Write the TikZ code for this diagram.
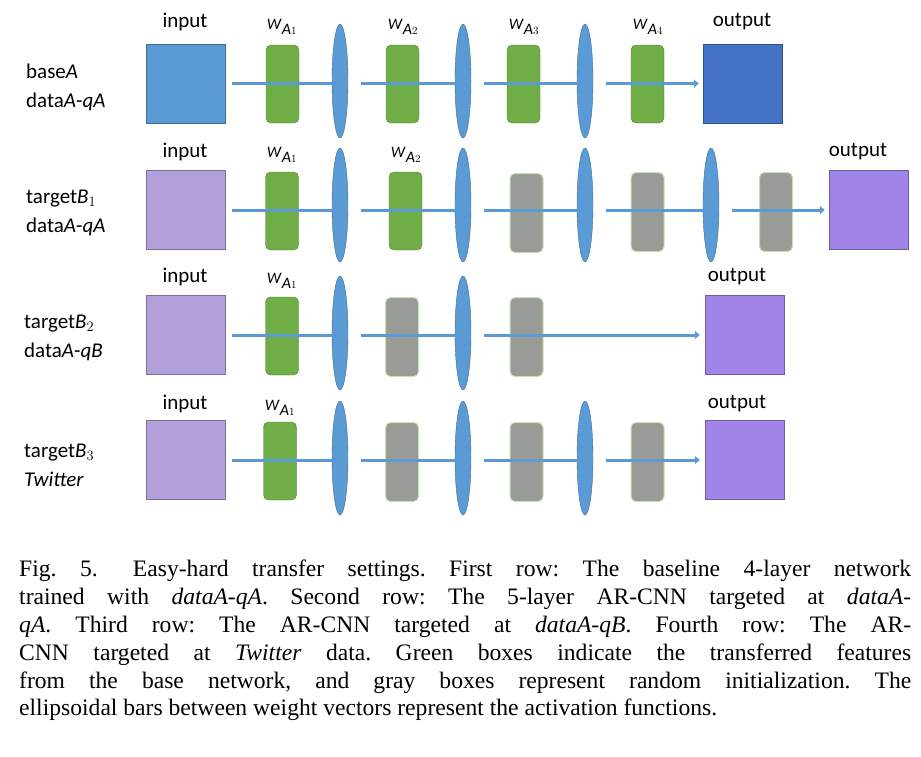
\documentclass[tikz,border=0pt]{standalone}
\usepackage{fontspec}
\setmainfont{Liberation Serif}
\newfontfamily\lab{Carlito}
\usetikzlibrary{shapes.geometric,arrows.meta}
\definecolor{inblue}{HTML}{5B9BD5}
\definecolor{outblue}{HTML}{4472C4}
\definecolor{inpurp}{HTML}{B29FDC}
\definecolor{outpurp}{HTML}{A084E8}
\definecolor{grn}{HTML}{70AD47}
\definecolor{grnd}{HTML}{507E32}
\definecolor{gry}{HTML}{999B97}
\definecolor{gryb}{HTML}{C5E0B4}
\definecolor{elb}{HTML}{5B9BD5}
\newcommand{\mi}[1]{\textit{#1}}
\tikzset{
 sq/.style={draw=#1!70!black,line width=0.4pt,fill=#1,minimum width=79pt,minimum height=79pt,inner sep=0},
 wbox/.style={draw=grnd,line width=0.4pt,fill=grn,rounded corners=5pt,minimum width=33pt,minimum height=78pt,inner sep=0},
 gbox/.style={draw=gryb,line width=1pt,fill=gry,rounded corners=5pt,minimum width=33pt,minimum height=79pt,inner sep=0},
 act/.style={ellipse,draw=elb!70!black,line width=0.4pt,fill=elb,minimum width=16pt,minimum height=114pt,inner sep=0},
 arr/.style={draw=elb,line width=3pt,-{Triangle[length=5pt,width=8pt]}},
 lbl/.style={font=\lab\fontsize{21}{21}\selectfont,inner sep=0},
 wl/.style={font=\lab\fontsize{16}{16}\selectfont,inner sep=0},
 rl/.style={font=\lab\fontsize{21}{29}\selectfont,align=left,anchor=west,inner sep=0},
}
\begin{document}
\begin{tikzpicture}[x=1pt,y=-1pt]
\useasboundingbox (0,0) rectangle (921,756);
% Row 1
\node[rl] (r1) at (26,87) {base\mi{A}\\data\mi{A}-\mi{qA}};
\node[sq=inblue] (i1) at (185.5,83.5) {};
\node[lbl] (il1) at (185,22) {input};
\node[wbox] (a1) at (282.5,84) {};
\node[wl] (wa1) at (282,27) {\mi{W}$_{\mi{A}1}$};
\node[act] (e11) at (340,81) {};
\node[wbox] (a2) at (402.5,84) {};
\node[wl] (wa2) at (403,27) {\mi{W}$_{\mi{A}2}$};
\node[act] (e12) at (463,81) {};
\node[wbox] (a3) at (523.5,84) {};
\node[wl] (wa3) at (524,27) {\mi{W}$_{\mi{A}3}$};
\node[act] (e13) at (585,81) {};
\node[wbox] (a4) at (647.5,84) {};
\node[wl] (wa4) at (648,27) {\mi{W}$_{\mi{A}4}$};
\node[sq=outblue] (o1) at (742.5,83.5) {};
\node[lbl] (ol1) at (742,22) {output};
\draw[arr] ([xshift=7]i1.east) -- ([xshift=7]i1.east -| e11.west);
\draw[arr] ([xshift=13]i1.east -| e11.east) -- ([xshift=7]i1.east -| e12.west);
\draw[arr] ([xshift=13]i1.east -| e12.east) -- ([xshift=7]i1.east -| e13.west);
\draw[arr] ([xshift=13]i1.east -| e13.east) -- ([xshift=-4]o1.west);
% Row 2
\node[rl] (r2) at (26,213) {target\mi{B}$_1$\\data\mi{A}-\mi{qA}};
\node[sq=inpurp] (i2) at (185.5,210) {};
\node[lbl] (il2) at (185,152) {input};
\node[wbox] (b1) at (282,211) {};
\node[wl] (wb1) at (282,155) {\mi{W}$_{\mi{A}1}$};
\node[act] (e21) at (340,205) {};
\node[wbox] (b2) at (405.5,211) {};
\node[wl] (wb2) at (406,155) {\mi{W}$_{\mi{A}2}$};
\node[act] (e22) at (463,205) {};
\node[gbox] (b3) at (526.5,213) {};
\node[act] (e23) at (585,205) {};
\node[gbox] (b4) at (647.5,212) {};
\node[act] (e24) at (711,205) {};
\node[gbox] (b5) at (776,212) {};
\node[sq=outpurp] (o2) at (868.5,210) {};
\node[lbl] (ol2) at (858,152) {output};
\draw[arr] ([xshift=7]i2.east) -- ([xshift=7]i2.east -| e21.west);
\draw[arr] ([xshift=13]i2.east -| e21.east) -- ([xshift=7]i2.east -| e22.west);
\draw[arr] ([xshift=13]i2.east -| e22.east) -- ([xshift=7]i2.east -| e23.west);
\draw[arr] ([xshift=13]i2.east -| e23.east) -- ([xshift=7]i2.east -| e24.west);
\draw[arr] ([xshift=13]i2.east -| e24.east) -- ([xshift=-4]o2.west);
% Row 3
\node[rl] (r3) at (24,338) {target\mi{B}$_2$\\data\mi{A}-\mi{qB}};
\node[sq=inpurp] (i3) at (185.5,335) {};
\node[lbl] (il3) at (185,277) {input};
\node[wbox] (c1) at (282,336) {};
\node[wl] (wc1) at (282,281) {\mi{W}$_{\mi{A}1}$};
\node[act] (e31) at (340,333) {};
\node[gbox] (c2) at (402,337) {};
\node[act] (e32) at (463,333) {};
\node[gbox] (c3) at (526.5,337) {};
\node[sq=outpurp] (o3) at (744.5,335) {};
\node[lbl] (ol3) at (737,277) {output};
\draw[arr] ([xshift=7]i3.east) -- ([xshift=7]i3.east -| e31.west);
\draw[arr] ([xshift=13]i3.east -| e31.east) -- ([xshift=7]i3.east -| e32.west);
\draw[arr] ([xshift=13]i3.east -| e32.east) -- ([xshift=-5]o3.west);
% Row 4
\node[rl] (r4) at (24,465) {target\mi{B}$_3$\\\mi{Twitter}};
\node[sq=inpurp] (i4) at (185.5,460) {};
\node[lbl] (il4) at (185,404) {input};
\node[wbox] (d1) at (280,461) {};
\node[wl] (wd1) at (280,408) {\mi{W}$_{\mi{A}1}$};
\node[act] (e41) at (340,458) {};
\node[gbox] (d2) at (402,462) {};
\node[act] (e42) at (463,458) {};
\node[gbox] (d3) at (526.5,462) {};
\node[act] (e43) at (585,458) {};
\node[gbox] (d4) at (647.5,462) {};
\node[sq=outpurp] (o4) at (744.5,460) {};
\node[lbl] (ol4) at (737,404) {output};
\draw[arr] ([xshift=7]i4.east) -- ([xshift=7]i4.east -| e41.west);
\draw[arr] ([xshift=13]i4.east -| e41.east) -- ([xshift=7]i4.east -| e42.west);
\draw[arr] ([xshift=13]i4.east -| e42.east) -- ([xshift=7]i4.east -| e43.west);
\draw[arr] ([xshift=13]i4.east -| e43.east) -- ([xshift=-5]o4.west);
% Caption
\node[anchor=north west,inner sep=0,text width=892pt,align=justify,font=\frenchspacing\fontsize{23.6}{27.8}\selectfont] (cap) at (19,560)
{Fig.~5.\hspace{0.5em} Easy-hard transfer settings. First row: The baseline 4-layer network\linebreak
trained with \textit{dataA-qA}. Second row: The 5-layer AR-CNN targeted at \textit{dataA-}\linebreak
\textit{qA}. Third row: The AR-CNN targeted at \textit{dataA-qB}. Fourth row: The AR-\linebreak
CNN targeted at \textit{Twitter} data. Green boxes indicate the transferred features\linebreak
from the base network, and gray boxes represent random initialization. The\linebreak
ellipsoidal bars between weight vectors represent the activation functions.};
\end{tikzpicture}
\end{document}
